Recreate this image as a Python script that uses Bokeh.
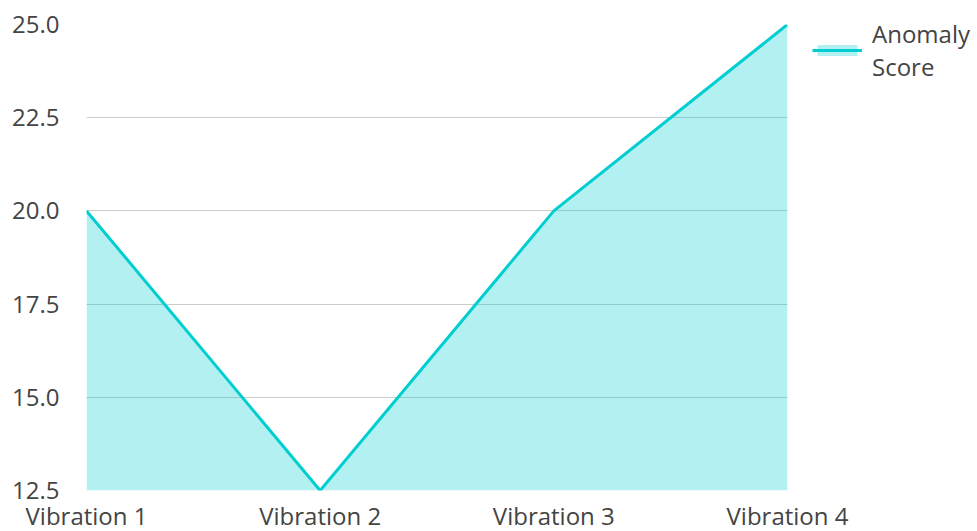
from bokeh.plotting import figure
from bokeh.models import Range1d, FixedTicker, Legend, LegendItem, NumeralTickFormatter
from bokeh.embed import file_html
from bokeh.resources import INLINE

categories = ["Vibration 1", "Vibration 2", "Vibration 3", "Vibration 4"]
scores = [20.0, 12.5, 20.0, 25.0]
y_ticks = [12.5, 15.0, 17.5, 20.0, 22.5, 25.0]
series_name = "Anomaly\nScore"

xs = list(range(len(categories)))
base = [y_ticks[0]] * len(xs)

LINE = "#00CED1"
TEXT = "#444444"
FONT = "Open Sans"
FS = "24px"

p = figure(frame_width=701, frame_height=466, output_backend="svg", toolbar_location=None,
           x_range=Range1d(0, len(categories) - 1), y_range=Range1d(y_ticks[0], y_ticks[-1]),
           min_border_left=86, min_border_top=24, min_border_right=0, min_border_bottom=0)
p.outline_line_color = None
p.background_fill_color = "white"

area = p.varea(x=xs, y1=base, y2=scores, fill_color=LINE, fill_alpha=0.3)
line = p.line(x=xs, y=scores, line_color=LINE, line_width=3)

p.xgrid.grid_line_color = None
p.ygrid.grid_line_color = "#cccccc"
p.ygrid.grid_line_width = 1
p.ygrid.ticker = FixedTicker(ticks=y_ticks)

p.xaxis.ticker = FixedTicker(ticks=xs)
p.xaxis.major_label_overrides = {i: c for i, c in enumerate(categories)}
p.yaxis.ticker = FixedTicker(ticks=y_ticks)
p.yaxis.formatter = NumeralTickFormatter(format="0.0")

for ax in (p.xaxis[0], p.yaxis[0]):
    ax.axis_line_color = None
    ax.major_tick_line_color = None
    ax.minor_tick_line_color = None
    ax.major_tick_out = 0
    ax.major_tick_in = 0
    ax.major_label_text_font = FONT
    ax.major_label_text_font_size = FS
    ax.major_label_text_color = TEXT
p.yaxis.major_label_standoff = 27
p.xaxis.major_label_standoff = 8

legend = Legend(items=[LegendItem(label=series_name, renderers=[area, line])],
                location=(25, 407), border_line_color=None, background_fill_alpha=0,
                label_text_font=FONT, label_text_font_size=FS, label_text_color=TEXT,
                label_text_line_height=1.25,
                glyph_width=50, glyph_height=14, label_standoff=10, padding=0, margin=0,
                label_height=20)
p.add_layout(legend, "right")

open("out.html", "w").write(file_html(p, INLINE))
